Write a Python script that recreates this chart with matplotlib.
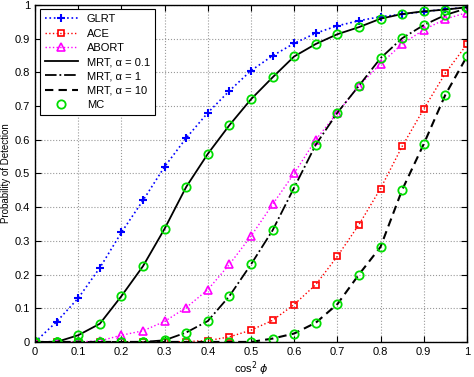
import numpy as np
import matplotlib.pyplot as plt

plt.rcParams['font.family'] = ['Liberation Sans', 'DejaVu Sans']

x = np.round(np.arange(0, 1.0001, 0.05), 2)

glrt = [0, 0.06, 0.13, 0.22, 0.325, 0.42, 0.52, 0.605, 0.68, 0.745, 0.805,
        0.849, 0.886, 0.916, 0.938, 0.953, 0.965, 0.972, 0.98, 0.987, 0.993]
ace = [0, 0, 0, 0, 0, 0, 0, 0.001, 0.004, 0.015, 0.035,
       0.064, 0.111, 0.17, 0.254, 0.348, 0.455, 0.58, 0.691, 0.797, 0.883]
abort = [0, 0, 0, 0.003, 0.02, 0.033, 0.061, 0.102, 0.155, 0.23, 0.314,
         0.408, 0.5, 0.6, 0.68, 0.76, 0.825, 0.884, 0.926, 0.958, 0.977]
mrt_01 = [0, 0, 0.02, 0.054, 0.136, 0.225, 0.336, 0.46, 0.558, 0.643, 0.72,
          0.785, 0.847, 0.884, 0.913, 0.934, 0.959, 0.973, 0.981, 0.986, 0.993]
mrt_1 = [0, 0, 0, 0, 0, 0, 0.005, 0.028, 0.062, 0.136, 0.23,
         0.331, 0.458, 0.585, 0.68, 0.76, 0.842, 0.901, 0.94, 0.97, 0.99]
mrt_10 = [0, 0, 0, 0, 0, 0, 0, 0, 0, 0, 0,
          0.01, 0.025, 0.057, 0.112, 0.2, 0.282, 0.451, 0.587, 0.733, 0.847]

fig = plt.figure(figsize=(4.74, 3.77), dpi=100)
ax = fig.add_axes([0.074, 0.093, 0.911, 0.894])

ax.plot(x, glrt, ':', color='#0000ff', marker='+', ms=6, mew=1.5, lw=1.2, label='GLRT')
ax.plot(x, ace, ':', color='#ff0000', marker='s', ms=5, mfc='none', mew=1.2, lw=1.0, label='ACE')
ax.plot(x, abort, ':', color='#ff00ff', marker='^', ms=6, mfc='none', mew=1.2, lw=1.0, label='ABORT')
ax.plot(x, mrt_01, '-', color='k', lw=1.3, label='MRT, α = 0.1')
ax.plot(x, mrt_1, '-.', color='k', lw=1.3, label='MRT, α = 1')
ax.plot(x, mrt_10, '--', color='k', lw=1.5, dashes=(4, 2.5), label='MRT, α = 10')
mc_style = dict(ls='none', marker='o', ms=6, mfc='none', mec='#00dd00', mew=1.3)
ax.plot(x, mrt_01, label='MC', **mc_style)
ax.plot(x, mrt_1, **mc_style)
ax.plot(x, mrt_10, **mc_style)

ax.set_xlim(0, 1)
ax.set_ylim(0, 1)
ax.set_xticks(np.arange(0, 1.01, 0.1))
ax.set_yticks(np.arange(0, 1.01, 0.1))
ax.set_xticklabels(['0', '0.1', '0.2', '0.3', '0.4', '0.5', '0.6', '0.7', '0.8', '0.9', '1'])
ax.set_yticklabels(['0', '0.1', '0.2', '0.3', '0.4', '0.5', '0.6', '0.7', '0.8', '0.9', '1'])
ax.tick_params(direction='in', labelsize=8, length=4, top=True, right=True)
ax.grid(True, ls=':', color='#999999', lw=0.8)
for s in ax.spines.values():
    s.set_linewidth(1.0)

ax.set_xlabel(r'cos$^2$ $\phi$', fontsize=8, labelpad=2)
ax.set_ylabel('Probability of Detection', fontsize=7, labelpad=3)

leg = ax.legend(loc='upper left', fontsize=8, frameon=True, fancybox=False,
                edgecolor='k', framealpha=1, borderpad=0.45, labelspacing=0.38,
                handlelength=3.0, borderaxespad=0.4)
leg.get_frame().set_linewidth(0.8)

fig.savefig('out.png', dpi=100)
